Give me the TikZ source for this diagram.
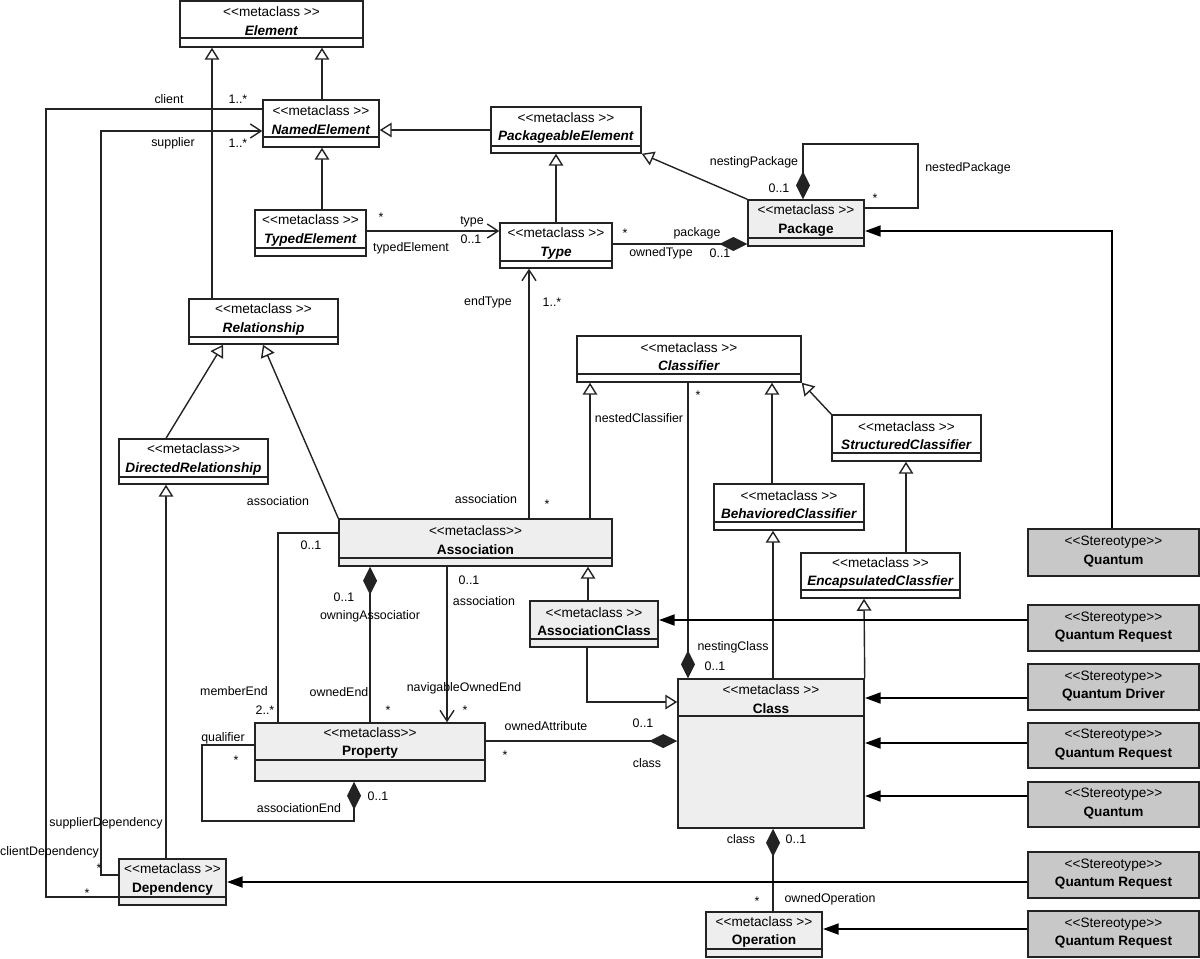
\documentclass[tikz,border=0pt]{standalone}
\usepackage{fontspec}
\setmainfont{Liberation Sans}
\usetikzlibrary{arrows.meta,fit,calc}

\definecolor{cgray}{RGB}{238,238,238}
\definecolor{sgray}{RGB}{200,200,200}
\definecolor{lncol}{RGB}{35,35,35}

\newcommand{\mcs}{<\kern0pt<metaclass >\kern0pt>}
\newcommand{\mcn}{<\kern0pt<metaclass>\kern0pt>}
\newcommand{\stt}{<\kern0pt<Stereotype>\kern0pt>}
\newcommand{\bi}[1]{\textbf{\textit{#1}}}

\tikzset{
 boxtext/.style={align=center, inner sep=0pt, font=\fontsize{10.2}{14}\selectfont, text=black},
 lbl/.style={inner sep=0pt, font=\fontsize{9.3}{11}\selectfont, text=black},
 star/.style={yshift=-2pt},
 conn/.style={line width=1.05pt, draw=lncol},
 gen/.style={conn, -{Triangle[fill=white, length=9pt, width=11pt]}},
 nav/.style={conn, -{Straight Barb[length=8pt, width=10.5pt]}},
 comp/.style={conn, {Diamond[length=21pt, width=10.5pt]}-},
 stereo/.style={line width=2.2pt, draw=black, -{Triangle[length=12pt, width=8pt]}},
}

\newcommand{\umlbox}[8]{%
 \node[fit={(#2,#3) (#4,#5)}, inner sep=0pt, draw=lncol, line width=1.1pt, fill=#7] (#1) {};
 \draw[line width=0.9pt, lncol] (#2,#6) -- (#4,#6);
 \node[boxtext] (#1-t) at ({(#2+#4)/2},{(#3+#6)/2+1.5}) {#8};
}
\newcommand{\stbox}[4]{%
 \node[fit={(1028,#2) (1199,#3)}, inner sep=0pt, draw=lncol, line width=1.1pt, fill=sgray] (#1) {};
 \node[boxtext] (#1-t) at ({(1028+1199)/2},{(#2+#3)/2-1}) {\stt\\\textbf{#4}};
}

\begin{document}
\begin{tikzpicture}[x=0.75pt,y=-0.75pt]
\useasboundingbox (0,0) rectangle (1200,958);

% classes
\umlbox{el}{180}{1}{363}{47}{38}{white}{\mcs\\\bi{Element}}
\umlbox{ne}{263}{100}{379}{147}{137}{white}{\mcs\\\bi{NamedElement}}
\umlbox{te}{255}{210}{366}{256}{248}{white}{\mcs\\\bi{TypedElement}}
\umlbox{pe}{491}{107}{641}{153}{146}{white}{\mcs\\\bi{PackageableElement}}
\umlbox{ty}{500}{223}{612}{268}{261}{white}{\mcs\\\bi{Type}}
\umlbox{pk}{748}{200}{864}{246}{238}{cgray}{\mcs\\\textbf{Package}}
\umlbox{rel}{189}{299}{338}{344}{337}{white}{\mcs\\\bi{Relationship}}
\umlbox{dr}{119}{439}{268}{484}{477}{white}{\mcn\\\bi{DirectedRelationship}}
\umlbox{cf}{577}{336}{801}{382}{374}{white}{\mcs\\\bi{Classifier}}
\umlbox{sc}{832}{415}{981}{461}{453}{white}{\mcs\\\bi{StructuredClassifier}}
\umlbox{bc}{714}{484}{864}{530}{522}{white}{\mcs\\\bi{BehavioredClassifier}}
\umlbox{ec}{801}{553}{960}{598}{590}{white}{\mcs\\\bi{EncapsulatedClassfier}}
\umlbox{as}{339}{519}{612}{566}{558}{cgray}{\mcn\\\textbf{Association}}
\umlbox{ac}{530}{601}{658}{647}{639}{cgray}{\mcs\\\textbf{AssociationClass}}
\umlbox{pr}{255}{723}{485}{781}{760}{cgray}{\mcn\\\textbf{Property}}
\umlbox{cl}{678}{679}{864}{828}{716}{cgray}{\mcs\\\textbf{Class}}
\umlbox{dp}{119}{859}{226}{905}{897}{cgray}{\mcs\\\textbf{Dependency}}
\umlbox{op}{706}{912}{822}{957}{949}{cgray}{\mcs\\\textbf{Operation}}

% stereotypes
\stbox{s1}{529}{576}{Quantum}
\stbox{s2}{605}{651}{Quantum Request}
\stbox{s3}{664}{710}{Quantum Driver}
\stbox{s4}{723}{768}{Quantum Request}
\stbox{s5}{782}{827}{Quantum}
\stbox{s6}{852}{898}{Quantum Request}
\stbox{s7}{911}{957}{Quantum Request}

% generalizations
\draw[gen] (rel.north -| 212,0) -- (el.south -| 212,0);
\draw[gen] (ne.north -| 322,0) -- (el.south -| 322,0);
\draw[gen] (te.north -| 322,0) -- (ne.south -| 322,0);
\draw[gen] (pe.west |- 0,130) -- (ne.east |- 0,130);
\draw[gen] (ty.north -| 556,0) -- (pe.south -| 556,0);
\draw[gen] (pk.north west) -- (pe.south east);
\draw[gen] (dr.north -| 166,0) -- (rel.south -| 223,0);
\draw[gen] (as.north west) -- (rel.south -| 263,0);
\draw[gen] (dp.north -| 166,0) -- (dr.south -| 166,0);
\draw[gen] (as.north -| 590,0) -- (cf.south -| 590,0);
\draw[gen] (bc.north -| 772,0) -- (cf.south -| 772,0);
\draw[gen] (sc.north west) -- (cf.south east);
\draw[gen] (ec.north -| 906,0) -- (sc.south -| 906,0);
\draw[gen] (cl.north -| 773,0) -- (bc.south -| 773,0);
\draw[gen] (cl.north east) -- (ec.south -| 864,0);
\draw[gen] (ac.north -| 588,0) -- (as.south -| 588,0);
\draw[gen] (ac.south -| 587,0) |- (cl.west |- 0,702);

% associations
\draw[nav] (te.east |- 0,231) -- (ty.west |- 0,231);
\draw[comp] (pk.west |- 0,244) -- (ty.east |- 0,244);
\draw[comp] (pk.north -| 803,0) -- (803,144) -| (918,208) -- (pk.east |- 0,208);
\draw[conn] (ne.west |- 0,109) -| (46,897) -- (dp.west |- 0,897);
\draw[nav] (dp.west |- 0,875) -| (101,131) -- (ne.west |- 0,131);
\draw[nav] (as.north -| 529,0) -- (ty.south -| 529,0);
\draw[comp] (cl.north -| 688,0) -- (cf.south -| 688,0);
\draw[conn] (as.west |- 0,533) -| (pr.north -| 278,0);
\draw[comp] (as.south -| 370,0) -- (pr.north -| 370,0);
\draw[nav] (as.south -| 447,0) -- (pr.north -| 447,0);
\draw[comp] (pr.south -| 354,0) -- (354,821) -| (202,745) -- (pr.west |- 0,745);
\draw[comp] (cl.west |- 0,741) -- (pr.east |- 0,741);
\draw[comp] (cl.south -| 773,0) -- (op.north -| 773,0);

% stereotype extensions
\draw[stereo] (s1.north -| 1112,0) |- (pk.east |- 0,231);
\draw[stereo] (s2.west |- 0,620) -- (ac.east |- 0,620);
\draw[stereo] (s3.west |- 0,698) -- (cl.east |- 0,698);
\draw[stereo] (s4.west |- 0,743) -- (cl.east |- 0,743);
\draw[stereo] (s5.west |- 0,796) -- (cl.east |- 0,796);
\draw[stereo] (s6.west |- 0,882) -- (dp.east |- 0,882);
\draw[stereo] (s7.west |- 0,929) -- (op.east |- 0,929);

% labels
\node[lbl] (l-client) at (169,99) {client};
\node[lbl] (l-client-m) at (238,99) {1..*};
\node[lbl] (l-supp) at (173,143) {supplier};
\node[lbl] (l-supp-m) at (238,143) {1..*};
\node[lbl,star] (l-te-m) at (381,215) {*};
\node[lbl] (l-te) at (411,248) {typedElement};
\node[lbl] (l-type) at (472,222) {type};
\node[lbl] (l-type-m) at (471,239) {0..1};
\node[lbl,star] (l-ot-m) at (625,231) {*};
\node[lbl] (l-pkg) at (697,233) {package};
\node[lbl] (l-ot) at (661,253) {ownedType};
\node[lbl] (l-pkg-m) at (720,253) {0..1};
\node[lbl] (l-nesting) at (754,162) {nestingPackage};
\node[lbl] (l-nesting-m) at (779,188) {0..1};
\node[lbl,star] (l-nested-m) at (875,196) {*};
\node[lbl] (l-nested) at (968,168) {nestedPackage};
\node[lbl] (l-endtype) at (488,302) {endType};
\node[lbl] (l-endtype-m) at (552,302) {1..*};
\node[lbl] (l-assoc1) at (486,499) {association};
\node[lbl,star] (l-assoc1-m) at (547,502) {*};
\node[lbl] (l-nestedcf) at (639,418) {nestedClassifier};
\node[lbl,star] (l-nc-m) at (698,393) {*};
\node[lbl] (l-nestingclass) at (733,647) {nestingClass};
\node[lbl] (l-nestingclass-m) at (715,666) {0..1};
\node[lbl] (l-assoc2) at (278,501) {association};
\node[lbl] (l-me-m1) at (311,545) {0..1};
\node[lbl] (l-me) at (234,691) {memberEnd};
\node[lbl] (l-me-m2) at (265,710) {2..*};
\node[lbl] (l-oa-m) at (344,597) {0..1};
\node[lbl] (l-oa) at (370,616) {owningAssociatior};
\node[lbl] (l-oe) at (339,692) {ownedEnd};
\node[lbl,star] (l-oe-m) at (388,708) {*};
\node[lbl] (l-nav-m1) at (469,580) {0..1};
\node[lbl] (l-nav-a) at (484,601) {association};
\node[lbl] (l-noe) at (464,688) {navigableOwnedEnd};
\node[lbl,star] (l-noe-m) at (465,708) {*};
\node[lbl] (l-qual) at (223,738) {qualifier};
\node[lbl,star] (l-qual-m) at (236,758) {*};
\node[lbl] (l-ae) at (299,808) {associationEnd};
\node[lbl] (l-ae-m) at (378,796) {0..1};
\node[lbl] (l-oattr) at (546,726) {ownedAttribute};
\node[lbl] (l-oattr-m) at (643,723) {0..1};
\node[lbl,star] (l-oattr-s) at (505,753) {*};
\node[lbl] (l-class1) at (647,763) {class};
\node[lbl] (l-class2) at (741,839) {class};
\node[lbl] (l-class2-m) at (796,839) {0..1};
\node[lbl,star] (l-oo-m) at (757,899) {*};
\node[lbl] (l-oo) at (830,899) {ownedOperation};
\node[lbl] (l-sd) at (106,823) {supplierDependency};
\node[lbl,anchor=east] (l-cd) at (99,852) {clientDependency};
\node[lbl,star] (l-sd-m) at (99,866) {*};
\node[lbl,star] (l-cd-m) at (87,891) {*};
\end{tikzpicture}
\end{document}
